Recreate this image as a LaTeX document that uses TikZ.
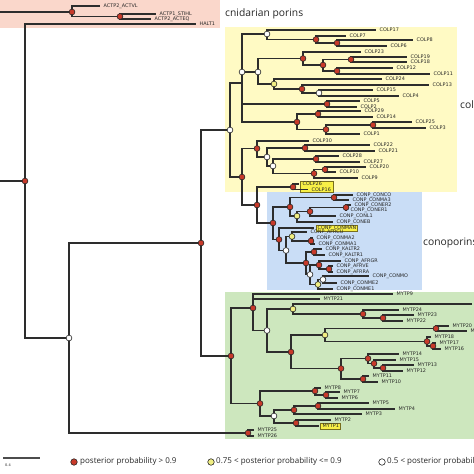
\documentclass[tikz,border=0pt]{standalone}
\usepackage{fontspec}
\newfontfamily\lblfont{DejaVu Sans}
\newfontfamily\capfont{Open Sans}
\definecolor{linec}{RGB}{45,45,45}
\definecolor{nred}{RGB}{200,58,42}
\definecolor{nyel}{RGB}{240,238,130}
\definecolor{bgpink}{RGB}{250,215,203}
\definecolor{bgyel}{RGB}{255,250,196}
\definecolor{bgblue}{RGB}{201,221,246}
\definecolor{bggreen}{RGB}{205,231,190}
\definecolor{hlfill}{RGB}{248,240,70}
\definecolor{hldraw}{RGB}{120,110,30}
\newcommand\leafat[4]{\coordinate (#1) at (#2,#3); \node[lbl] (#1t) at (#2+3.5,#3) {#4};}
\begin{document}
\begin{tikzpicture}[x=1pt,y=-1pt,
  br/.style={draw=linec, line width=1.1pt},
  dotbase/.style={circle, inner sep=0pt, minimum size=5.8pt, draw=black!85, line width=0.6pt},
  rd/.style={dotbase, fill=nred},
  yd/.style={dotbase, fill=nyel},
  wd/.style={dotbase, fill=white},
  lbl/.style={anchor=west, inner sep=0pt, font=\lblfont\fontsize{4.9}{5}\selectfont, text=black!85},
  captxt/.style={anchor=west, inner sep=0pt, font=\capfont\fontsize{10.3}{12}\selectfont, text=black!85},
  legtxt/.style={anchor=west, inner sep=0pt, font=\capfont\fontsize{8}{9}\selectfont, text=black!85},
  hlbox/.style={fill=hlfill, draw=hldraw, line width=0.5pt}]
\useasboundingbox (0,0) rectangle (474,474);
% backgrounds
\fill[bgpink] (0,0) rectangle (220,28);
\fill[bgyel] (225,27) rectangle (457,192);
\fill[bgblue] (267,192) rectangle (422,290);
\fill[bggreen] (225,292) rectangle (474,439);
% highlight boxes
\draw[hlbox] (300,181.5) rectangle (333,192);
\draw[hlbox] (316,225) rectangle (357,231);
\draw[hlbox] (320,423) rectangle (340,429);
% group captions
\node[captxt] (capcn) at (225,14) {cnidarian porins};
\node[captxt] (capcol) at (460,106) {colporins};
\node[captxt] (capcon) at (423,243) {conoporins};
% internal node positions
\coordinate (cin) at (0,12);
\coordinate (rin) at (0,181);
\coordinate (cnid) at (72,12);
\coordinate (nact) at (120,16.5);
\coordinate (root) at (25,181);
\coordinate (wn1) at (69,338);
\coordinate (rn2) at (201,243);
\coordinate (wcolp) at (230,130);
\coordinate (rmyt) at (231,356);
\coordinate (r248) at (248,433);
\coordinate (c242) at (242,83);
\coordinate (w242b) at (242,72);
\coordinate (w267) at (267,34);
\coordinate (r316) at (316,39.5);
\coordinate (r337) at (337,43);
\coordinate (w258) at (258,72);
\coordinate (r303) at (303,58.5);
\coordinate (r323) at (323,65);
\coordinate (r351) at (351,59.5);
\coordinate (r337b) at (337,71);
\coordinate (y274) at (274,84);
\coordinate (r302) at (302,89);
\coordinate (w319) at (319,93);
\coordinate (r327) at (327,104);
\coordinate (r297) at (297,122);
\coordinate (r318) at (318,114);
\coordinate (r326) at (326,129.5);
\coordinate (r373) at (373,125);
\coordinate (r242) at (242,177);
\coordinate (r257a) at (257,148.5);
\coordinate (w267b) at (267,157);
\coordinate (r305) at (305,148);
\coordinate (w273) at (273,166);
\coordinate (r316b) at (316,159);
\coordinate (r314) at (314,173.5);
\coordinate (r325) at (325,169.5);
\coordinate (r257b) at (257,205);
\coordinate (r293) at (293,187);
\coordinate (r273) at (273,223);
\coordinate (r290) at (290,207);
\coordinate (r334) at (334,197.5);
\coordinate (y297) at (297,216);
\coordinate (r310) at (310,211.5);
\coordinate (r346) at (346,207.5);
\coordinate (r279) at (279,239.5);
\coordinate (w286) at (286,250.5);
\coordinate (y292) at (292,236.5);
\coordinate (r311) at (311,241);
\coordinate (r306) at (306,263);
\coordinate (r314c) at (314,252);
\coordinate (w310) at (310,274.5);
\coordinate (r319) at (319,265);
\coordinate (r329) at (329,269);
\coordinate (y318) at (318,284.5);
\coordinate (w323) at (323,279.5);
\coordinate (r253) at (253,308);
\coordinate (w267m) at (267,330.5);
\coordinate (y293) at (293,309);
\coordinate (r363) at (363,314);
\coordinate (r383) at (383,318);
\coordinate (r291) at (291,352);
\coordinate (y325) at (325,335);
\coordinate (r436) at (436,328.5);
\coordinate (r427) at (427,341.5);
\coordinate (r433) at (433,346);
\coordinate (r341) at (341,368.5);
\coordinate (r368) at (368,358.5);
\coordinate (r374) at (374,363.5);
\coordinate (r383b) at (383,368);
\coordinate (r363b) at (363,379);
\coordinate (r260) at (260,403.5);
\coordinate (r315) at (315,391);
\coordinate (r326m) at (326,395);
\coordinate (w274) at (274,416);
\coordinate (r294) at (294,410);
\coordinate (r318m) at (318,406);
\coordinate (r296) at (296,423);
% leaves
\leafat{lACTVL}{100}{6}{ACTP2\_ACTVL}
\leafat{lSTIHL}{156}{14}{ACTP1\_STIHL}
\leafat{lACTEQ}{151}{19}{ACTP2\_ACTEQ}
\leafat{lHALT1}{196}{24}{HALT1}
\leafat{lCOLP17}{376}{30}{COLP17}
\leafat{lCOLP7}{346}{36}{COLP7}
\leafat{lCOLP8}{413}{40}{COLP8}
\leafat{lCOLP6}{387}{46}{COLP6}
\leafat{lCOLP23}{361}{52}{COLP23}
\leafat{lCOLP19}{407}{57}{COLP19}
\leafat{lCOLP18}{407}{62}{COLP18}
\leafat{lCOLP12}{393}{68}{COLP12}
\leafat{lCOLP11}{430}{74}{COLP11}
\leafat{lCOLP24}{382}{79}{COLP24}
\leafat{lCOLP13}{429}{85}{COLP13}
\leafat{lCOLP15}{373}{90}{COLP15}
\leafat{lCOLP4}{399}{96}{COLP4}
\leafat{lCOLP5}{360}{101}{COLP5}
\leafat{lCOLP2}{357}{107}{COLP2}
\leafat{lCOLP29}{361}{111}{COLP29}
\leafat{lCOLP14}{373}{117}{COLP14}
\leafat{lCOLP25}{412}{122}{COLP25}
\leafat{lCOLP3}{426}{128}{COLP3}
\leafat{lCOLP1}{360}{134}{COLP1}
\leafat{lCOLP30}{309}{141}{COLP30}
\leafat{lCOLP22}{370}{145}{COLP22}
\leafat{lCOLP21}{375}{151}{COLP21}
\leafat{lCOLP28}{339}{156}{COLP28}
\leafat{lCOLP27}{360}{162}{COLP27}
\leafat{lCOLP20}{366}{167}{COLP20}
\leafat{lCOLP10}{336}{172}{COLP10}
\leafat{lCOLP9}{358}{178}{COLP9}
\leafat{lCOLP26}{299}{184}{COLP26}
\leafat{lCOLP16}{308}{189.5}{COLP16}
\leafat{lCONCO}{353}{195}{CONP\_CONCO}
\leafat{lCONMA3}{349}{200}{CONP\_CONMA3}
\leafat{lCONER2}{351}{205}{CONP\_CONER2}
\leafat{lCONER1}{347}{210}{CONP\_CONER1}
\leafat{lCONL1}{336}{216}{CONP\_CONL1}
\leafat{lCONEB}{333}{222}{CONP\_CONEB}
\leafat{lCONMAN}{314}{228}{CONP\_CONMAN}
\leafat{lAFRCU}{307}{232}{CONP\_AFRCU}
\leafat{lCONMA2}{313}{238}{CONP\_CONMA2}
\leafat{lCONMA1}{315}{244}{CONP\_CONMA1}
\leafat{lKALTR2}{322}{249}{CONP\_KALTR2}
\leafat{lKALTR1}{325}{255}{CONP\_KALTR1}
\leafat{lAFRGR}{341}{261}{CONP\_AFRGR}
\leafat{lAFRVE}{333}{266}{CONP\_AFRVE}
\leafat{lAFRRA}{333}{272}{CONP\_AFRRA}
\leafat{lCONMO}{369}{276}{CONP\_CONMO}
\leafat{lCONME2}{337}{283}{CONP\_CONME2}
\leafat{lCONME1}{333}{289}{CONP\_CONME1}
\leafat{lMYTP9}{393}{294}{MYTP9}
\leafat{lMYTP21}{320}{299}{MYTP21}
\coordinate (lmX) at (472,304);
\leafat{lMYTP24}{399}{310}{MYTP24}
\leafat{lMYTP23}{414}{315}{MYTP23}
\leafat{lMYTP22}{403}{321}{MYTP22}
\leafat{lMYTP20}{449}{326}{MYTP20}
\leafat{lMYTP19}{467}{331}{MYTP19}
\leafat{lMYTP18}{431}{337}{MYTP18}
\leafat{lMYTP17}{436}{343}{MYTP17}
\leafat{lMYTP16}{441}{349}{MYTP16}
\leafat{lMYTP14}{399}{354}{MYTP14}
\leafat{lMYTP15}{396}{360}{MYTP15}
\leafat{lMYTP13}{414}{365}{MYTP13}
\leafat{lMYTP12}{403}{371}{MYTP12}
\leafat{lMYTP11}{369}{376}{MYTP11}
\leafat{lMYTP10}{378}{382}{MYTP10}
\leafat{lMYTP8}{321}{388}{MYTP8}
\leafat{lMYTP7}{340}{392}{MYTP7}
\leafat{lMYTP6}{338}{398}{MYTP6}
\leafat{lMYTP5}{369}{403}{MYTP5}
\leafat{lMYTP4}{395}{409}{MYTP4}
\leafat{lMYTP3}{362}{414}{MYTP3}
\leafat{lMYTP2}{331}{420}{MYTP2}
\leafat{lMYTP1}{319}{426}{MYTP1}
\leafat{lMYTP25}{254}{430}{MYTP25}
\leafat{lMYTP26}{254}{436}{MYTP26}
% branches
\draw[br] (cin) -- (cnid);
\draw[br] (rin) -- (root);
\draw[br] (w242b) -- (w258);
\foreach \a/\b in {root/lHALT1, root/wn1, wn1/rn2, wn1/r248, r248/lMYTP25, r248/lMYTP26, rn2/wcolp, rn2/rmyt,
 cnid/lACTVL, cnid/nact, nact/lSTIHL, nact/lACTEQ,
 wcolp/c242, wcolp/r242, c242/w267, c242/r327, c242/r297,
 w267/lCOLP17, w267/r316, r316/lCOLP7, r316/r337, r337/lCOLP8, r337/lCOLP6,
 w258/r303, w258/y274, r303/lCOLP23, r303/r323, r323/r351, r323/r337b, r351/lCOLP19, r351/lCOLP18, r337b/lCOLP12, r337b/lCOLP11,
 y274/lCOLP24, y274/r302, r302/lCOLP13, r302/w319, w319/lCOLP15, w319/lCOLP4,
 r327/lCOLP5, r327/lCOLP2,
 r297/r318, r297/r326, r318/lCOLP29, r318/lCOLP14, r326/r373, r326/lCOLP1, r373/lCOLP25, r373/lCOLP3,
 r242/r257a, r242/r257b,
 r257a/lCOLP30, r257a/w267b, w267b/r305, w267b/w273, r305/lCOLP22, r305/lCOLP21, w273/r316b, w273/r314, r316b/lCOLP28, r316b/lCOLP27, r314/r325, r314/lCOLP9, r325/lCOLP20, r325/lCOLP10,
 r257b/r293, r257b/r273, r293/lCOLP26, r293/lCOLP16,
 r273/r290, r273/r279, r290/r334, r290/y297, r334/lCONCO, r334/lCONMA3, y297/r310, y297/lCONEB, r310/r346, r310/lCONL1, r346/lCONER2, r346/lCONER1,
 r279/lCONMAN, r279/w286, w286/y292, w286/r306, y292/lAFRCU, y292/r311, r311/lCONMA2, r311/lCONMA1,
 r306/r314c, r306/w310, r314c/lKALTR2, r314c/lKALTR1, w310/r319, w310/y318, r319/lAFRGR, r319/r329, r329/lAFRVE, r329/lAFRRA, y318/w323, y318/lCONME1, w323/lCONMO, w323/lCONME2,
 rmyt/r253, rmyt/r260,
 r253/lMYTP9, r253/lMYTP21, r253/w267m, w267m/y293, w267m/r291, y293/lmX, y293/r363, r363/lMYTP24, r363/r383, r383/lMYTP23, r383/lMYTP22,
 r291/y325, r291/r341, y325/r436, y325/r427, r436/lMYTP20, r436/lMYTP19, r427/lMYTP18, r427/r433, r433/lMYTP17, r433/lMYTP16,
 r341/r368, r341/r363b, r368/lMYTP14, r368/r374, r374/lMYTP15, r374/r383b, r383b/lMYTP13, r383b/lMYTP12, r363b/lMYTP11, r363b/lMYTP10,
 r260/r315, r260/w274, r315/lMYTP8, r315/r326m, r326m/lMYTP7, r326m/lMYTP6, w274/r294, w274/r296, r294/r318m, r294/lMYTP3, r318m/lMYTP5, r318m/lMYTP4, r296/lMYTP2, r296/lMYTP1}
 \draw[br] (\a) |- (\b);
% support circles
\foreach \n in {cnid, nact, root, rn2, rmyt, r248, r316, r337, r303, r323, r351, r337b, r302, r327, r297, r318, r326, r373, r242, r257a, r305, r316b, r314, r325, r257b, r293, r273, r290, r334, r310, r346, r279, r311, r306, r314c, r319, r329, r253, r363, r383, r291, r436, r427, r433, r341, r368, r374, r383b, r363b, r260, r315, r326m, r294, r318m, r296}
 \node[rd] (o-\n) at (\n) {};
\foreach \n in {y274, y297, y292, y318, y293, y325}
 \node[yd] (o-\n) at (\n) {};
\foreach \n in {wn1, wcolp, w267, w242b, w258, w319, w267b, w273, w286, w310, w323, w267m, w274}
 \node[wd] (o-\n) at (\n) {};
% scale bar
\coordinate (sbL) at (3,458);
\coordinate (sbR) at (40,458);
\draw[draw=black!70, line width=1.3pt] (sbL) -- (sbR);
\node[lbl, font=\lblfont\fontsize{3.5}{4}\selectfont] (sbt) at (5,465) {0.4};
% legend
\node[rd, minimum size=6.5pt] (lg1) at (74,462) {};
\node[legtxt] (lg1t) at (80,461.5) {posterior probability > 0.9};
\node[yd, minimum size=6.5pt] (lg2) at (211,462) {};
\node[legtxt] (lg2t) at (216,461.5) {0.75 < posterior probability <= 0.9};
\node[wd, minimum size=6.5pt] (lg3) at (382,462) {};
\node[legtxt] (lg3t) at (387,461.5) {0.5 < posterior probability <= 0.75};
\end{tikzpicture}
\end{document}
